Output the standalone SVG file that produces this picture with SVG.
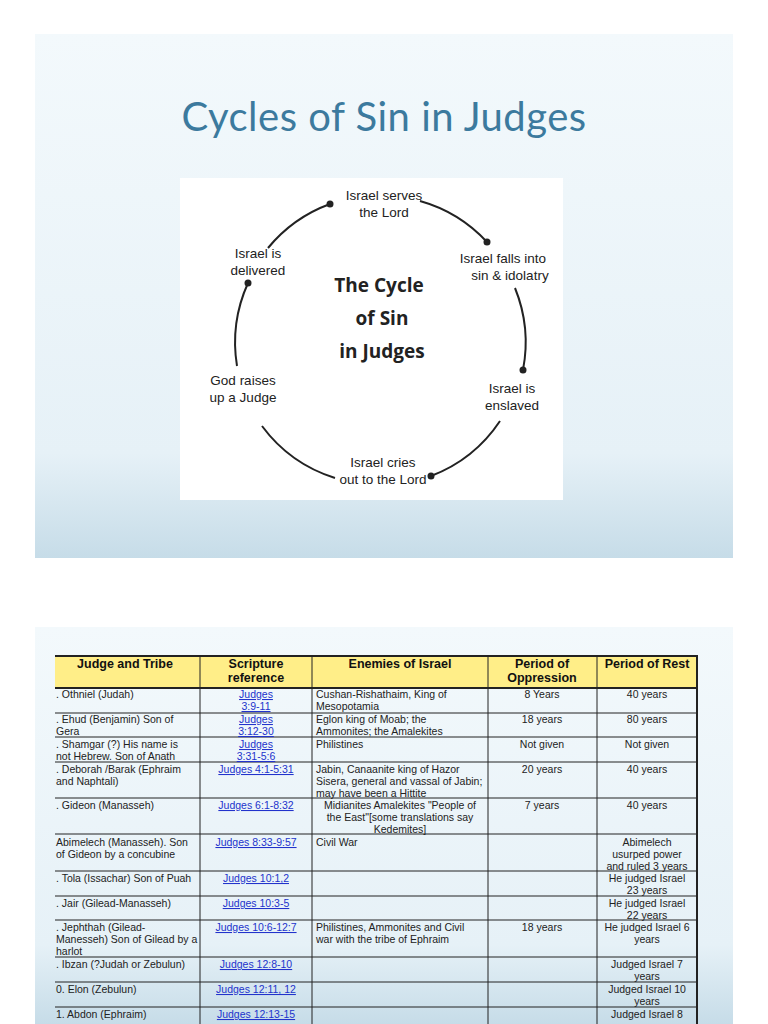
<svg xmlns="http://www.w3.org/2000/svg" width="768" height="1024" viewBox="0 0 768 1024">
<defs>
<linearGradient id="bg" x1="0" y1="0" x2="0" y2="1"><stop offset="0" stop-color="#f3f9fc"/><stop offset="0.8" stop-color="#e6f1f7"/><stop offset="1" stop-color="#c6dce8"/></linearGradient>
<clipPath id="tc"><rect x="55" y="600" width="700" height="424"/></clipPath>
<marker id="dot" markerWidth="8" markerHeight="8" refX="4" refY="4" markerUnits="userSpaceOnUse"><circle cx="4" cy="4" r="3.5" fill="#222"/></marker>
<style>
.c{font-family:"Liberation Sans","Open Sans",sans-serif;font-size:13.5px;fill:#222;text-anchor:middle}
.b{font-family:"Open Sans","Liberation Sans",sans-serif;font-size:19px;font-weight:bold;fill:#222;text-anchor:middle}
.t{font-family:"Liberation Sans",sans-serif;font-size:10.5px;fill:#222}
.h{font-family:"Liberation Sans",sans-serif;font-size:12.5px;font-weight:bold;fill:#111;text-anchor:middle}
.l{font-family:"Liberation Sans",sans-serif;font-size:10.5px;fill:#2233cc;text-anchor:middle;text-decoration:underline}
.m{text-anchor:middle}
.g line{stroke:#222;stroke-width:1}
</style>
</defs>
<rect width="768" height="1024" fill="#ffffff"/>
<rect x="35" y="34" width="698" height="524" fill="url(#bg)"/>
<rect x="35" y="627" width="698" height="397" fill="url(#bg)"/>
<text x="384" y="131" font-family="Lato,'Open Sans',sans-serif" font-size="40" letter-spacing="0.5" fill="#3c7a9e" text-anchor="middle">Cycles of  Sin in Judges</text>
<rect x="180" y="178" width="383" height="322" fill="#ffffff"/>
<g id="connectors" fill="none" stroke="#222" stroke-width="2">
<path d="M420 201 A145 145 0 0 1 487 242" marker-end="url(#dot)"/>
<path d="M515 288 A145 145 0 0 1 523 370" marker-end="url(#dot)"/>
<path d="M500 421 A145 145 0 0 1 431 476" marker-end="url(#dot)"/>
<path d="M335 478 A145 145 0 0 1 262 426"/>
<path d="M237 366 A145 145 0 0 1 248 283" marker-end="url(#dot)"/>
<path d="M268 248 A145 145 0 0 1 330 204" marker-end="url(#dot)"/>
</g>
<g id="n1"><text class="c" x="384" y="200">Israel serves</text><text class="c" x="384" y="217">the Lord</text></g>
<g id="n2"><text class="c" x="503" y="263">Israel falls into</text><text class="c" x="510" y="280">sin &amp; idolatry</text></g>
<g id="n3"><text class="c" x="512" y="393">Israel is</text><text class="c" x="512" y="410">enslaved</text></g>
<g id="n4"><text class="c" x="383" y="467">Israel cries</text><text class="c" x="383" y="484">out to the Lord</text></g>
<g id="n5"><text class="c" x="243" y="385">God raises</text><text class="c" x="243" y="402">up a Judge</text></g>
<g id="n6"><text class="c" x="258" y="258">Israel is</text><text class="c" x="258" y="275">delivered</text></g>
<g id="center"><text class="b" x="379" y="292">The Cycle</text><text class="b" x="382" y="325">of Sin</text><text class="b" x="382" y="358">in Judges</text></g>
<g clip-path="url(#tc)">
<rect x="30" y="656" width="668" height="32" fill="#ffee88"/>
<g class="g">
<line x1="30" y1="656" x2="698" y2="656" style="stroke-width:2"/>
<line x1="30" y1="688" x2="698" y2="688" style="stroke-width:2"/>
<line x1="30" y1="713" x2="698" y2="713"/><line x1="30" y1="737" x2="698" y2="737"/><line x1="30" y1="762" x2="698" y2="762"/>
<line x1="30" y1="798" x2="698" y2="798"/><line x1="30" y1="834" x2="698" y2="834"/><line x1="30" y1="871" x2="698" y2="871"/>
<line x1="30" y1="896" x2="698" y2="896"/><line x1="30" y1="920" x2="698" y2="920"/><line x1="30" y1="957" x2="698" y2="957"/>
<line x1="30" y1="982" x2="698" y2="982"/><line x1="30" y1="1007" x2="698" y2="1007"/>
<line x1="200" y1="656" x2="200" y2="1024"/><line x1="312" y1="656" x2="312" y2="1024"/><line x1="488" y1="656" x2="488" y2="1024"/><line x1="597" y1="656" x2="597" y2="1024"/><line x1="697" y1="656" x2="697" y2="1024" style="stroke-width:2"/>
</g>
<text class="h" x="125" y="668">Judge and Tribe</text>
<text class="h" x="256" y="668">Scripture</text><text class="h" x="256" y="682">reference</text>
<text class="h" x="400" y="668">Enemies of Israel</text>
<text class="h" x="542" y="668">Period of</text><text class="h" x="542" y="682">Oppression</text>
<text class="h" x="647" y="668">Period of Rest</text>
<g class="t">
<text x="56" y="698">. Othniel (Judah)</text>
<text x="56" y="723">. Ehud (Benjamin) Son of</text><text x="56" y="735">Gera</text>
<text x="56" y="748">. Shamgar (?) His name is</text><text x="56" y="760">not Hebrew. Son of Anath</text>
<text x="56" y="773">. Deborah /Barak (Ephraim</text><text x="56" y="785">and Naphtali)</text>
<text x="56" y="809">. Gideon (Manasseh)</text>
<text x="56" y="846">Abimelech (Manasseh). Son</text><text x="56" y="858">of Gideon by a concubine</text>
<text x="56" y="882">. Tola (Issachar) Son of Puah</text>
<text x="56" y="907">. Jair (Gilead-Manasseh)</text>
<text x="56" y="931">. Jephthah (Gilead-</text><text x="56" y="943">Manesseh) Son of Gilead by a</text><text x="56" y="955">harlot</text>
<text x="56" y="968">. Ibzan (?Judah or Zebulun)</text>
<text x="56" y="993">0. Elon (Zebulun)</text>
<text x="56" y="1018">1. Abdon (Ephraim)</text>
<text x="316" y="698">Cushan-Rishathaim, King of</text><text x="316" y="710">Mesopotamia</text>
<text x="316" y="723">Eglon king of Moab; the</text><text x="316" y="735">Ammonites; the Amalekites</text>
<text x="316" y="748">Philistines</text>
<text x="316" y="773">Jabin, Canaanite king of Hazor</text><text x="316" y="785">Sisera, general and vassal of Jabin;</text><text x="316" y="797">may have been a Hittite</text>
<text class="m" x="400" y="809">Midianites Amalekites "People of</text><text class="m" x="400" y="821">the East"[some translations say</text><text class="m" x="400" y="833">Kedemites]</text>
<text x="316" y="846">Civil War</text>
<text x="316" y="931">Philistines, Ammonites and Civil</text><text x="316" y="943">war with the tribe of Ephraim</text>
<text class="m" x="542" y="698">8 Years</text><text class="m" x="542" y="723">18 years</text><text class="m" x="542" y="748">Not given</text><text class="m" x="542" y="773">20 years</text><text class="m" x="542" y="809">7 years</text><text class="m" x="542" y="931">18 years</text>
<text class="m" x="647" y="698">40 years</text><text class="m" x="647" y="723">80 years</text><text class="m" x="647" y="748">Not given</text><text class="m" x="647" y="773">40 years</text><text class="m" x="647" y="809">40 years</text>
<text class="m" x="647" y="846">Abimelech</text><text class="m" x="647" y="858">usurped power</text><text class="m" x="647" y="870">and ruled 3 years</text>
<text class="m" x="647" y="882">He judged Israel</text><text class="m" x="647" y="894">23 years</text>
<text class="m" x="647" y="907">He judged Israel</text><text class="m" x="647" y="919">22 years</text>
<text class="m" x="647" y="931">He judged Israel 6</text><text class="m" x="647" y="943">years</text>
<text class="m" x="647" y="968">Judged Israel 7</text><text class="m" x="647" y="980">years</text>
<text class="m" x="647" y="993">Judged Israel 10</text><text class="m" x="647" y="1005">years</text>
<text class="m" x="647" y="1018">Judged Israel 8</text>
</g>
<text class="l" x="256" y="698">Judges</text><text class="l" x="256" y="710">3:9-11</text>
<text class="l" x="256" y="723">Judges</text><text class="l" x="256" y="735">3:12-30</text>
<text class="l" x="256" y="748">Judges</text><text class="l" x="256" y="760">3:31-5:6</text>
<text class="l" x="256" y="773">Judges 4:1-5:31</text>
<text class="l" x="256" y="809">Judges 6:1-8:32</text>
<text class="l" x="256" y="846">Judges 8:33-9:57</text>
<text class="l" x="256" y="882">Judges 10:1,2</text>
<text class="l" x="256" y="907">Judges 10:3-5</text>
<text class="l" x="256" y="931">Judges 10:6-12:7</text>
<text class="l" x="256" y="968">Judges 12:8-10</text>
<text class="l" x="256" y="993">Judges 12:11, 12</text>
<text class="l" x="256" y="1018">Judges 12:13-15</text>
</g>
</svg>
